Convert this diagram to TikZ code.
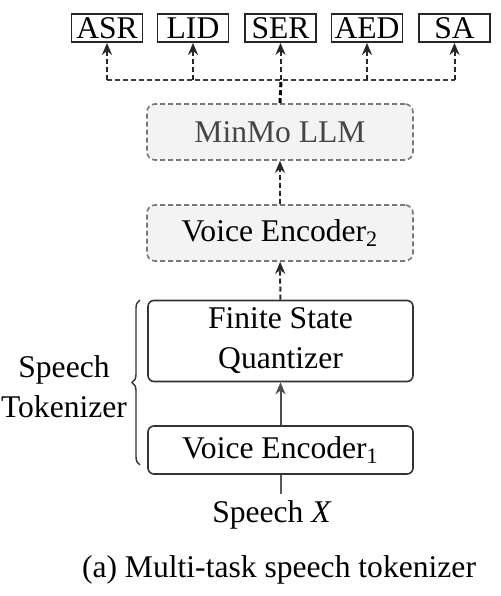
\documentclass[tikz,border=0pt]{standalone}
\usepackage{fontspec}
\setmainfont{Liberation Serif}
\usetikzlibrary{arrows, arrows.meta, decorations.pathreplacing}
\definecolor{boxgray}{RGB}{243,243,243}
\definecolor{dashgray}{RGB}{120,120,120}
\definecolor{textgray}{RGB}{70,70,70}
\tikzstyle{task} = [rectangle, draw=black!85, line width=0.9pt, minimum width=35.5pt, minimum height=14pt, inner sep=0pt, text centered]
\tikzstyle{frozen} = [rectangle, rounded corners=4pt, dashed, dash pattern=on 2.5pt off 1.5pt, draw=dashgray, line width=0.8pt, fill=boxgray, minimum width=133pt, minimum height=28pt, text centered]
\tikzstyle{process} = [rectangle, rounded corners=3pt, draw=black!80, line width=0.8pt, minimum width=132.5pt, text centered, align=center]
\tikzstyle{arrow} = [line width=1pt,-{Stealth[length=6pt,width=5pt]}]
\tikzstyle{darrow} = [arrow, dash pattern=on 2.5pt off 1.5pt, draw=black!85]
\begin{document}
\begin{tikzpicture}[x=0.5pt, y=-0.5pt, every node/.style={font=\fontsize{15.8}{20}\selectfont}]
\useasboundingbox (0,0) rectangle (501,596);
% output tasks
\node(asr)[task] at (107,28) {ASR};
\node(lid)[task] at (193,28) {LID};
\node(ser)[task] at (280.5,28) {SER};
\node(aed)[task] at (367,28) {AED};
\node(sa)[task] at (454.5,28) {SA};
\coordinate (bus) at (281,80);

% model stack
\node(llm)[frozen, text=textgray] at (280,132) {MinMo LLM};
\node(enc2)[frozen] at (280,233) {Voice Encoder\textsubscript{2}};
\node(fsq)[process, minimum height=40.5pt] at (280.5,341) {Finite State\\Quantizer};
\node(enc1)[process, minimum height=24pt] at (280.5,450) {Voice Encoder\textsubscript{1}};
\node(input) at (272,515) {Speech \textit{X}};
\node(caption) at (279,570) {(a) Multi-task speech tokenizer};

% tokenizer brace
\coordinate (brtop) at (140,300);
\coordinate (brbot) at (140,465);
\draw[decorate, decoration={brace, amplitude=4pt}, line width=0.7pt, draw=black!80] (brbot) -- (brtop);
\node(tok)[align=center] at (64,387) {Speech\\Tokenizer};

\draw[line width=1pt, draw=black!65] (enc1.south |- input.north) -- (enc1.south);
\draw[arrow, draw=black!70] (enc1) -- (fsq);
\draw[darrow] (fsq) -- (enc2);
\draw[darrow] (enc2) -- (llm);
\draw[line width=1.5pt, dash pattern=on 2.5pt off 1.5pt] (llm.north) -- (bus);
\draw[line width=1.1pt, dash pattern=on 2.5pt off 1.5pt, draw=black!75] (asr.south |- bus) -- (sa.south |- bus);
\foreach \t in {asr, lid, ser, aed, sa}
  \draw[darrow] (\t.south |- bus) -- (\t.south);

\end{tikzpicture}
\end{document}
